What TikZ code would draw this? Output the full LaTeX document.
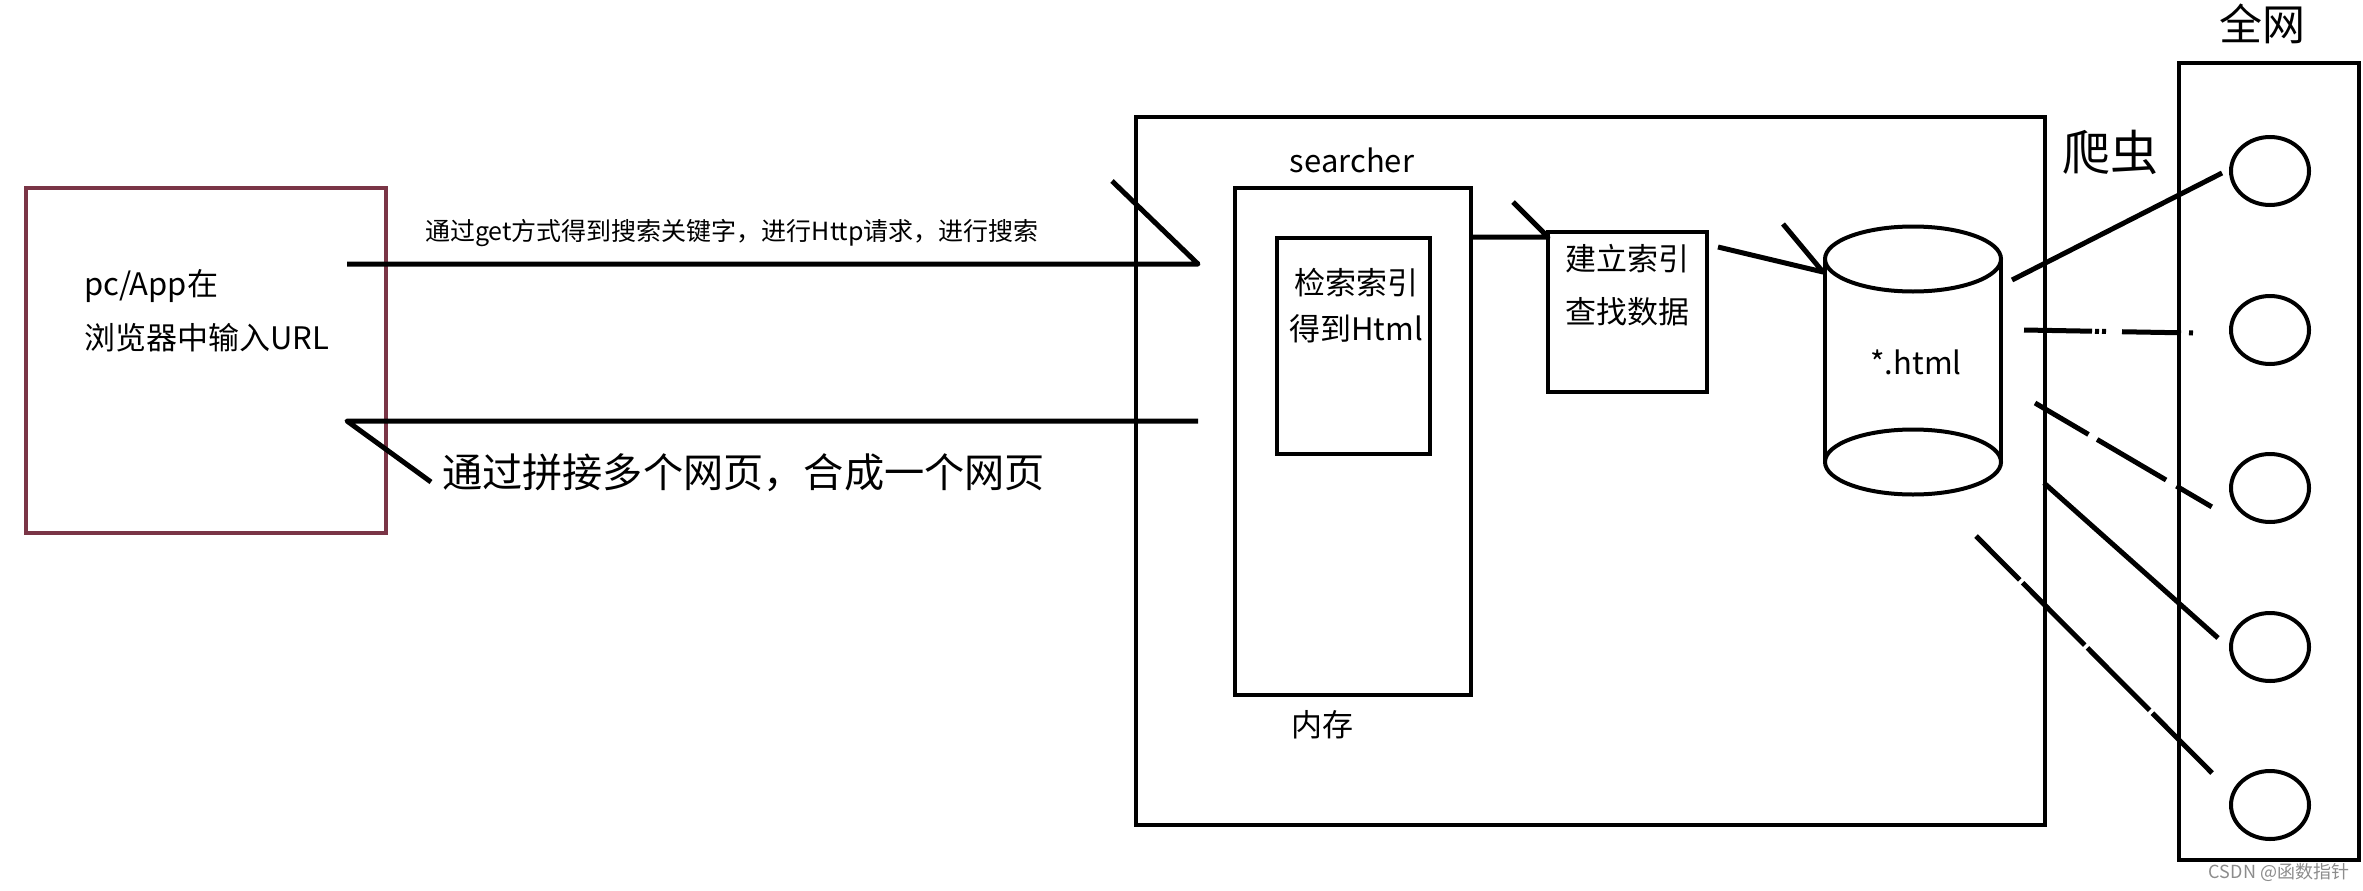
\documentclass[tikz,border=0pt]{standalone}
\usepackage{fontspec}
\setmainfont{Noto Sans CJK SC}
\usepackage{tikz}
\usetikzlibrary{shapes.geometric, positioning}
\definecolor{clientred}{HTML}{7A3546}

\begin{document}
\begin{tikzpicture}[
        x=1pt, y=1pt,
        every node/.style={inner sep=0pt, outer sep=0pt},
        boxnode/.style={rectangle, draw=black, line width=4pt},
        roundnode/.style={ellipse, draw=black, line width=4pt, minimum width=78pt, minimum height=68pt},
        cylnode/.style={ellipse, draw=black, line width=4pt, minimum width=176pt, minimum height=65pt},
        label/.style={font=\fontsize{31}{46}\selectfont, align=center},
        conn/.style={line width=5pt, line join=round}
    ]
        \useasboundingbox (0,0) rectangle (2363,-891);

        % Boxes
        \node (client) [boxnode, draw=clientred, minimum width=360pt, minimum height=345pt] at (205.5,-360) {};
        \node (server) [boxnode, minimum width=909pt, minimum height=708pt, right=750pt of client, yshift=-110.5pt] {};
        \node (searcher) [boxnode, minimum width=236pt, minimum height=507pt] at (1353,-441.5) {};
        \node (lookup) [boxnode, minimum width=153pt, minimum height=216pt, below=50pt of searcher.north] {};
        \node (indexer) [boxnode, minimum width=159pt, minimum height=160pt, right=77pt of searcher, yshift=129.5pt] {};
        \node (web) [boxnode, minimum width=180pt, minimum height=797pt] at (2269,-461.5) {};

        % Cylinder
        \node (cyltop) [cylnode] at (1913,-259) {};
        \node (cylbot) [cylnode, below=138pt of cyltop] {};
        \draw[line width=4pt] (cyltop.west) -- (cylbot.west);
        \draw[line width=4pt] (cyltop.east) -- (cylbot.east);

        % Sites
        \foreach \i/\ypos in {1/-171, 2/-330, 3/-488, 4/-647, 5/-805}
            \node (site\i) [roundnode] at (2270,\ypos) {};

        % Labels
        \node (clienttext) [label, font=\fontsize{31}{54}\selectfont, align=left, anchor=west] at (84,-311) {pc/App在\\浏览器中输入URL};
        \node (reqtext) [label, font=\fontsize{25}{30}\selectfont] at (732,-233) {通过get方式得到搜索关键字，进行Http请求，进行搜索};
        \node (resptext) [label, font=\fontsize{40.2}{48}\selectfont] at (743.5,-473) {通过拼接多个网页，合成一个网页};
        \node (searchertext) [label] at (1352,-160) {searcher};
        \node (memtext) [label] at (1322,-725) {内存};
        \node (lookuptext) [label] at (1356,-306) {检索索引\\得到Html};
        \node (indextext) [label, font=\fontsize{31}{53}\selectfont] at (1627,-285) {建立索引\\查找数据};
        \node (htmltext) [label] at (1916,-362) {*.html};
        \node (crawltext) [label, font=\fontsize{48}{52}\selectfont] at (2110,-152) {爬虫};
        \node (webtext) [label, font=\fontsize{43}{48}\selectfont] at (2262,-24) {全网};
        \node (marktext) [label, font=\fontsize{18}{22}\selectfont, text=black!45] at (2279,-872) {CSDN @函数指针};

        % Connector ends
        \coordinate (reqa) at (347,-264);
        \coordinate (reqb) at (1198,-264);
        \coordinate (reqc) at (1112,-181);
        \coordinate (respa) at (1198,-421);
        \coordinate (respb) at (347,-421);
        \coordinate (respc) at (431,-482);
        \coordinate (idxa) at (1471,-237);
        \coordinate (idxb) at (1548,-237);
        \coordinate (idxc) at (1513,-202);
        \coordinate (stoa) at (1718,-247);
        \coordinate (stob) at (1823,-272);
        \coordinate (stoc) at (1783,-224);
        \coordinate (cra1) at (2012,-280);
        \coordinate (crb1) at (2222,-173);
        \coordinate (cra2) at (2024,-330);
        \coordinate (crb2) at (2193,-333);
        \coordinate (cra3) at (2035,-403);
        \coordinate (crb3) at (2212,-507);
        \coordinate (cra4) at (2044,-483);
        \coordinate (crb4) at (2218,-638);
        \coordinate (cra5) at (1976,-536);
        \coordinate (crb5) at (2212,-773);

        % Connectors
        \draw[conn] (reqa) -- (reqb) -- (reqc);
        \draw[conn] (respa) -- (respb) -- (respc);
        \draw[conn] (idxa) -- (idxb) -- (idxc);
        \draw[conn] (stoa) -- (stob) -- (stoc);
        \draw[conn] (cra1) -- (crb1);
        \draw[conn, dash pattern=on 68pt off 3pt on 4pt off 3pt on 4pt off 16pt on 59pt off 8pt on 4pt] (cra2) -- (crb2);
        \draw[conn, dash pattern=on 62pt off 10pt on 80pt off 12pt on 41pt] (cra3) -- (crb3);
        \draw[conn] (cra4) -- (crb4);
        \draw[conn, dash pattern=on 62pt off 4pt on 88pt off 4pt on 88pt off 4pt on 90pt] (cra5) -- (crb5);

    \end{tikzpicture}
\end{document}
